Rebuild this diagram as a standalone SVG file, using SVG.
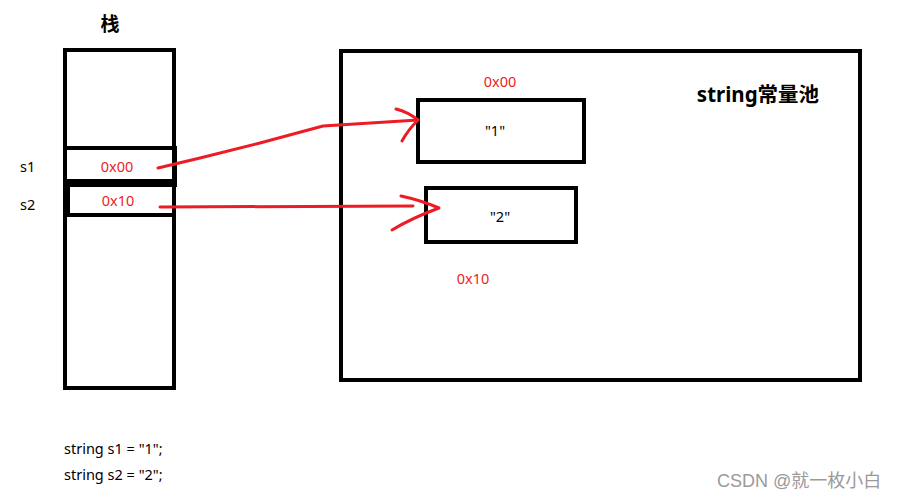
<svg xmlns="http://www.w3.org/2000/svg" width="900" height="500" viewBox="0 0 900 500">
<style>
.box{fill:none;stroke:#000;stroke-width:4}
.t{font-family:"Noto Sans","Noto Sans CJK SC",sans-serif;font-size:14.5px;fill:#000}
.r{fill:#ed1c24}
.b{font-weight:bold;font-size:19px}
.arrow{fill:none;stroke:#ed1c24;stroke-width:3;stroke-linecap:round;stroke-linejoin:round}
</style>
<rect width="900" height="500" fill="#fff"/>
<g id="stack">
<text class="t b" x="110" y="31" text-anchor="middle">栈</text>
<rect class="box" x="65" y="50" width="109" height="338"/>
</g>
<g id="s1">
<rect class="box" x="65" y="148" width="110" height="33"/>
<rect x="63" y="179" width="114" height="8" fill="#000"/>
<text class="t" x="20" y="172">s1</text>
<text class="t r" x="117" y="172" text-anchor="middle">0x00</text>
</g>
<g id="s2">
<rect class="box" x="68" y="185" width="106" height="30"/>
<text class="t" x="20" y="210">s2</text>
<text class="t r" x="118" y="206" text-anchor="middle">0x10</text>
</g>
<g id="pool">
<rect class="box" x="341" y="51" width="519" height="329"/>
<text class="t b" x="758" y="102" text-anchor="middle" style="font-size:20.5px">string常量池</text>
</g>
<g id="str1">
<rect class="box" x="418" y="100" width="166" height="62"/>
<text class="t" x="495" y="136" text-anchor="middle">"1"</text>
<text class="t r" x="500" y="87" text-anchor="middle">0x00</text>
</g>
<g id="str2">
<rect class="box" x="426" y="188" width="150" height="54"/>
<text class="t" x="500" y="222" text-anchor="middle">"2"</text>
<text class="t r" x="473" y="284" text-anchor="middle">0x10</text>
</g>
<g id="connectors">
<path class="arrow" d="M158,168 L200,158 L260,143 L323,126 L418,120"/>
<path class="arrow" d="M396,109 Q408,112 418,120 Q408,130 402,141"/>
<path class="arrow" d="M160,207 L413,206"/>
<path class="arrow" d="M401,196 Q420,200 439,208 Q412,218 392,230"/>
</g>
<g id="code">
<text class="t" x="64" y="454">string s1 = "1";</text>
<text class="t" x="64" y="480">string s2 = "2";</text>
</g>
<text x="717" y="487" font-family="'Liberation Sans','Noto Sans CJK SC',sans-serif" font-size="18" fill="#9a9a9a">CSDN @就一枚小白</text>
</svg>
